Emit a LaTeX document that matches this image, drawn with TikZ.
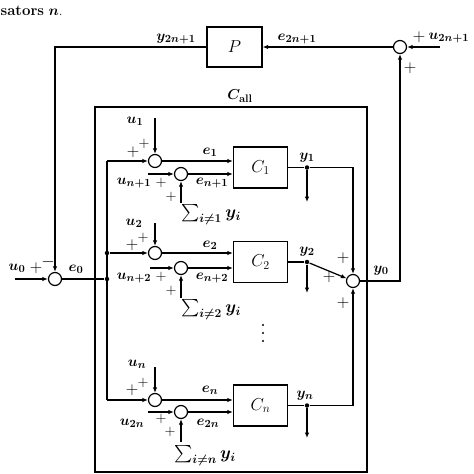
\documentclass[tikz,border=0pt]{standalone}
\usepackage{exscale}
\usetikzlibrary{arrows.meta}
\begin{document}
\begin{tikzpicture}[x=1pt,y=-1pt,
  every path/.style={line width=1.25pt},
  arr/.style={-{Latex[length=5.5pt,width=4.5pt]}},
  sumnode/.style={circle,draw,line width=1.2pt,minimum size=13pt,inner sep=0pt},
  blk/.style={rectangle,draw,line width=1.25pt,minimum width=54pt,minimum height=41pt,inner sep=0pt,font=\fontsize{17}{19}\selectfont},
  lab/.style={inner sep=0pt,font=\fontsize{15}{17}\selectfont\boldmath},
  sig/.style={inner sep=0pt,font=\fontsize{17}{19}\selectfont\boldmath},
  pl/.style={inner sep=0pt,font=\fontsize{17}{19}\selectfont},
  mpl/.style={inner sep=0pt,font=\fontsize{15}{17}\selectfont},
  spl/.style={inner sep=0pt,font=\fontsize{14}{16}\selectfont},
  jdot/.style={circle,fill,inner sep=0pt,minimum size=4.5pt}]
\useasboundingbox (0,0) rectangle (474,474);
% top line text
\node[lab,anchor=west] (cap) at (0,11) {\textbf{sators} $n$.};
% main blocks
\node[blk,minimum width=55pt,minimum height=40pt] (P) at (234.5,47) {$P$};
\node[sumnode] (stop) at (400,47) {};
\node[sumnode] (s0) at (55,279) {};
\node[sumnode] (sy) at (353,281) {};
\node[blk] (C1) at (260.5,167.5) {$C_1$};
\node[blk] (C2) at (260.5,262) {$C_2$};
\node[blk] (Cn) at (260.5,405.5) {$C_n$};
\node[sumnode] (a1) at (155,161) {};
\node[sumnode] (b1) at (181,174) {};
\node[sumnode] (a2) at (155,253) {};
\node[sumnode] (b2) at (181,268) {};
\node[sumnode] (an) at (155,400) {};
\node[sumnode] (bn) at (181,412) {};
% C_all box
\draw[line width=1.6pt] (95,107) rectangle (367,472);
\node[lab] (call) at (240,96) {$C_{\mathrm{all}}$};
% coordinates
\coordinate (uin) at (440,47);
\coordinate (tl) at (55,47);
\coordinate (u0in) at (15,279);
\coordinate (c1) at (107,161);
\coordinate (cn) at (107,400);
\node[jdot] (j0) at (107,279) {};
\node[jdot] (j2) at (107,253) {};
\coordinate (u1in) at (155,118);
\coordinate (u2in) at (155,223);
\coordinate (unin) at (155,367);
\coordinate (v1in) at (148,174);
\coordinate (v2in) at (150,268);
\coordinate (vnin) at (148,412);
\coordinate (w1in) at (181,203);
\coordinate (w2in) at (181,298);
\coordinate (wnin) at (181,442);
\node[jdot] (d1) at (307,167.5) {};
\node[jdot] (d2) at (307,262) {};
\node[jdot] (dn) at (307,405.5) {};
\coordinate (o1) at (307,202);
\coordinate (o2) at (307,293);
\coordinate (on) at (307,438);
\coordinate (k1) at (353,167.5);
\coordinate (kn) at (353,405.5);
% outer loop
\draw[arr] (uin) -- (stop);
\draw[arr] (stop) -- (P);
\draw[arr] (P.west) -- (tl) -- (s0);
\draw[arr] (u0in) -- (s0);
\draw (s0) -- (j0);
\draw[arr] (sy) -- (sy -| stop) -- (stop);
% bus
\draw (c1) -- (cn);
\draw[arr] (c1) -- (a1);
\draw[arr] (j2) -- (a2);
\draw[arr] (cn) -- (an);
% row inputs
\draw[arr] (u1in) -- (a1);
\draw[arr] (u2in) -- (a2);
\draw[arr] (unin) -- (an);
\draw[arr] (v1in) -- (b1);
\draw[arr] (v2in) -- (b2);
\draw[arr] (vnin) -- (bn);
\draw[arr] (w1in) -- (b1);
\draw[arr] (w2in) -- (b2);
\draw[arr] (wnin) -- (bn);
\draw[arr] (a1) -- (a1 -| C1.west);
\draw[arr] (b1) -- (b1 -| C1.west);
\draw[arr] (a2) -- (a2 -| C2.west);
\draw[arr] (b2) -- (b2 -| C2.west);
\draw[arr] (an) -- (an -| Cn.west);
\draw[arr] (bn) -- (bn -| Cn.west);
% outputs
\draw (C1.east) -- (d1);
\draw (C2.east) -- (d2);
\draw (Cn.east) -- (dn);
\draw[arr] (d1) -- (o1);
\draw[arr] (d2) -- (o2);
\draw[arr] (dn) -- (on);
\draw[arr] (d1) -- (k1) -- (sy);
\draw[arr] (d2) -- (sy);
\draw[arr] (dn) -- (kn) -- (sy);
% labels
\node[lab] (ly2n) at (176,39) {$y_{2n+1}$};
\node[lab] (le2n) at (297,39) {$e_{2n+1}$};
\node[pl] (ptop) at (419,37) {$+$};
\node[lab,anchor=west] (lu2n) at (428,38) {$u_{2n+1}$};
\node[pl] (ptop2) at (410,68) {$+$};
\node[lab] (lu0) at (17,268) {$u_0$};
\node[pl] (pu0) at (36,268) {$+$};
\node[pl] (mu0) at (48,262) {$-$};
\node[lab] (le0) at (76,269) {$e_0$};
% row 1
\node[lab] (lu1) at (135,121) {$u_1$};
\node[pl] (p1a) at (133,152) {$+$};
\node[spl] (p1b) at (144,144) {$+$};
\node[lab] (le1) at (210,152) {$e_1$};
\node[lab] (lun1) at (134,183) {$u_{n+1}$};
\node[mpl] (p1c) at (161,183) {$+$};
\node[spl] (p1d) at (171,197) {$+$};
\node[lab] (len1) at (212,183) {$e_{n+1}$};
\node[sig] (ls1) at (211,215) {$\sum_{i\neq1} y_i$};
\node[lab] (ly1) at (307,158) {$y_1$};
% row 2
\node[lab] (lu2) at (134,223) {$u_2$};
\node[pl] (p2a) at (132,245) {$+$};
\node[spl] (p2b) at (143,238) {$+$};
\node[lab] (le2) at (210,245) {$e_2$};
\node[lab] (lun2) at (134,278) {$u_{n+2}$};
\node[mpl] (p2c) at (161,277) {$+$};
\node[spl] (p2d) at (171,291) {$+$};
\node[lab] (len2) at (212,278) {$e_{n+2}$};
\node[sig] (ls2) at (211,310) {$\sum_{i\neq2} y_i$};
\node[lab] (ly2) at (307,252) {$y_2$};
% row n
\node[lab] (lun) at (137,364) {$u_n$};
\node[pl] (pna) at (132,390) {$+$};
\node[spl] (pnb) at (143,383) {$+$};
\node[lab] (len) at (210,390) {$e_n$};
\node[lab] (lu2nn) at (132,423) {$u_{2n}$};
\node[mpl] (pnc) at (161,419) {$+$};
\node[spl] (pnd) at (170,432) {$+$};
\node[lab] (le2nn) at (208,423) {$e_{2n}$};
\node[sig] (lsn) at (205,456) {$\sum_{i\neq n} y_i$};
\node[lab] (lyn) at (305,396) {$y_n$};
% output sum
\node[pl] (sp1) at (343,258) {$+$};
\node[pl] (sp2) at (329,277) {$+$};
\node[pl] (sp3) at (343,303) {$+$};
\node[lab] (ly0) at (381,271) {$y_0$};
% vertical dots
\fill (263,325) circle (1.2pt) (263,333) circle (1.2pt) (263,341) circle (1.2pt);
\end{tikzpicture}
\end{document}
